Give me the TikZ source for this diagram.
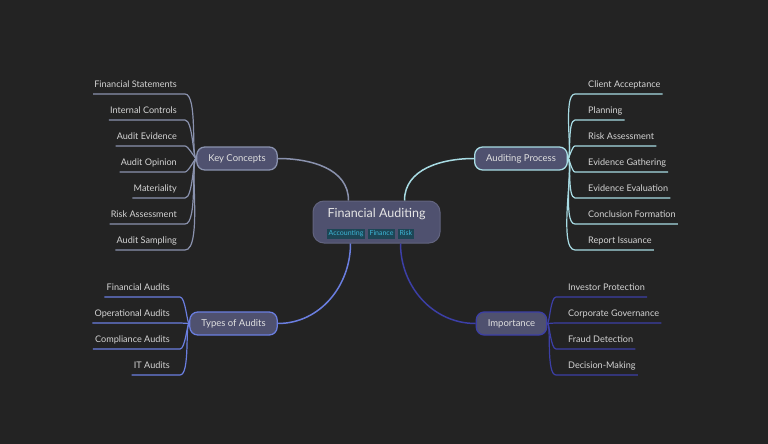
\documentclass[tikz,border=0pt]{standalone}
\usepackage{fontspec}
\setmainfont{Lato}
\usetikzlibrary{positioning}
\definecolor{bgdark}{HTML}{232323}
\definecolor{nodefill}{HTML}{4F516F}
\definecolor{rootline}{HTML}{62647F}
\definecolor{kcline}{HTML}{8A92AE}
\definecolor{apline}{HTML}{A8DCE4}
\definecolor{taline}{HTML}{6A7EE0}
\definecolor{imline}{HTML}{3C3FA6}
\definecolor{leaftext}{HTML}{D4D4D4}
\definecolor{tagfill}{HTML}{1D4656}
\definecolor{tagtext}{HTML}{3DB6D6}

\begin{document}
\begin{tikzpicture}
		[x=1pt, y=-1pt,
		root/.style={draw=rootline, fill=nodefill, line width=1pt, rounded corners=11pt,
			minimum width=127pt, minimum height=42pt},
		title/.style={text=white!90!black, font=\fontsize{12.5}{14}\selectfont, inner sep=0pt},
		tag/.style={fill=tagfill, text=tagtext, font=\fontsize{7}{8}\selectfont,
			inner xsep=1.6pt, inner ysep=1.5pt, text height=5.2pt, text depth=1.3pt},
		branch/.style={draw=#1, fill=nodefill, line width=1.3pt, rounded corners=8pt,
			minimum height=23pt, inner xsep=11.5pt, text=white!88!black,
			font=\fontsize{9.5}{11}\selectfont},
		leaf/.style={text=leaftext, font=\fontsize{9.1}{11}\selectfont, inner xsep=1pt,
			inner ysep=4.5pt, text height=7pt, text depth=2pt},
		link/.style={draw=#1, line width=1.2pt},
		link/.default=kcline,
		fan/.style={out looseness=0.2, in looseness=0.5}]
		
		\def \gap {26};
		
		\useasboundingbox[fill=bgdark] (0,0) rectangle (768,444);
		
		% centre
		\node[root] (fa) at (376.5,222) {};
		\node[title] (fatitle) at (376.5,214) {Financial Auditing};
		\node[tag] (fin) at (381.5,234) {Finance};
		\node[tag, left=2.5pt of fin] (acc) {Accounting};
		\node[tag, right=2.5pt of fin] (risk) {Risk};
		
		% branches
		\node[branch=kcline] (kc) at (237,158.5) {Key Concepts};
		\node[branch=apline] (ap) at (521,158.5) {Auditing Process};
		\node[branch=taline] (ta) at (233.5,323.5) {Types of Audits};
		\node[branch=imline] (im) at (511.5,323.5) {Importance};
		
		\draw[link=kcline, line width=1.5pt] ([xshift=-28pt]fa.north) to[out=90,in=0] (kc.east);
		\draw[link=apline, line width=1.5pt] ([xshift=28pt]fa.north) to[out=90,in=180] (ap.west);
		\draw[link=taline, line width=1.5pt] ([xshift=-26pt]fa.south) to[out=-90,in=0] (ta.east);
		\draw[link=imline, line width=1.5pt] ([xshift=24pt]fa.south) to[out=-90,in=180] (im.west);
		
		% key concepts
		\foreach \i/\txt in {1/Financial Statements, 2/Internal Controls, 3/Audit Evidence,
			4/Audit Opinion, 5/Materiality, 6/Risk Assessment, 7/Audit Sampling}
			{\node[leaf, anchor=south east] (kc\i) at (178, 68+\gap*\i) {\txt};
			\draw[link=kcline] (kc.west) to[out=180,in=0,fan] ([xshift=7pt]kc\i.south east) -- (kc\i.south west);
			}
		
		% auditing process
		\foreach \i/\txt in {1/Client Acceptance, 2/Planning, 3/Risk Assessment,
			4/Evidence Gathering, 5/Evidence Evaluation, 6/Conclusion Formation, 7/Report Issuance}
			{\node[leaf, anchor=south west] (ap\i) at (587, 68+\gap*\i) {\txt};
			\draw[link=apline] (ap.east) to[out=0,in=180,fan] ([xshift=-12pt]ap\i.south west) -- ([xshift=1pt]ap\i.south east);
			}
		
		% types of audits
		\foreach \i/\txt in {1/Financial Audits, 2/Operational Audits, 3/Compliance Audits, 4/IT Audits}
			{\node[leaf, anchor=south east] (ta\i) at (171, 271+\gap*\i) {\txt};
			\draw[link=taline] (ta.west) to[out=180,in=0,fan] ([xshift=9pt]ta\i.south east) -- ([xshift=-1pt]ta\i.south west);
			}
		
		% importance
		\foreach \i/\txt in {1/Investor Protection, 2/Corporate Governance, 3/Fraud Detection, 4/Decision-Making}
			{\node[leaf, anchor=south west] (im\i) at (567, 271+\gap*\i) {\txt};
			\draw[link=imline] (im.east) to[out=0,in=180,fan] ([xshift=-11pt]im\i.south west) -- ([xshift=1pt]im\i.south east);
			}

	\end{tikzpicture}
\end{document}
